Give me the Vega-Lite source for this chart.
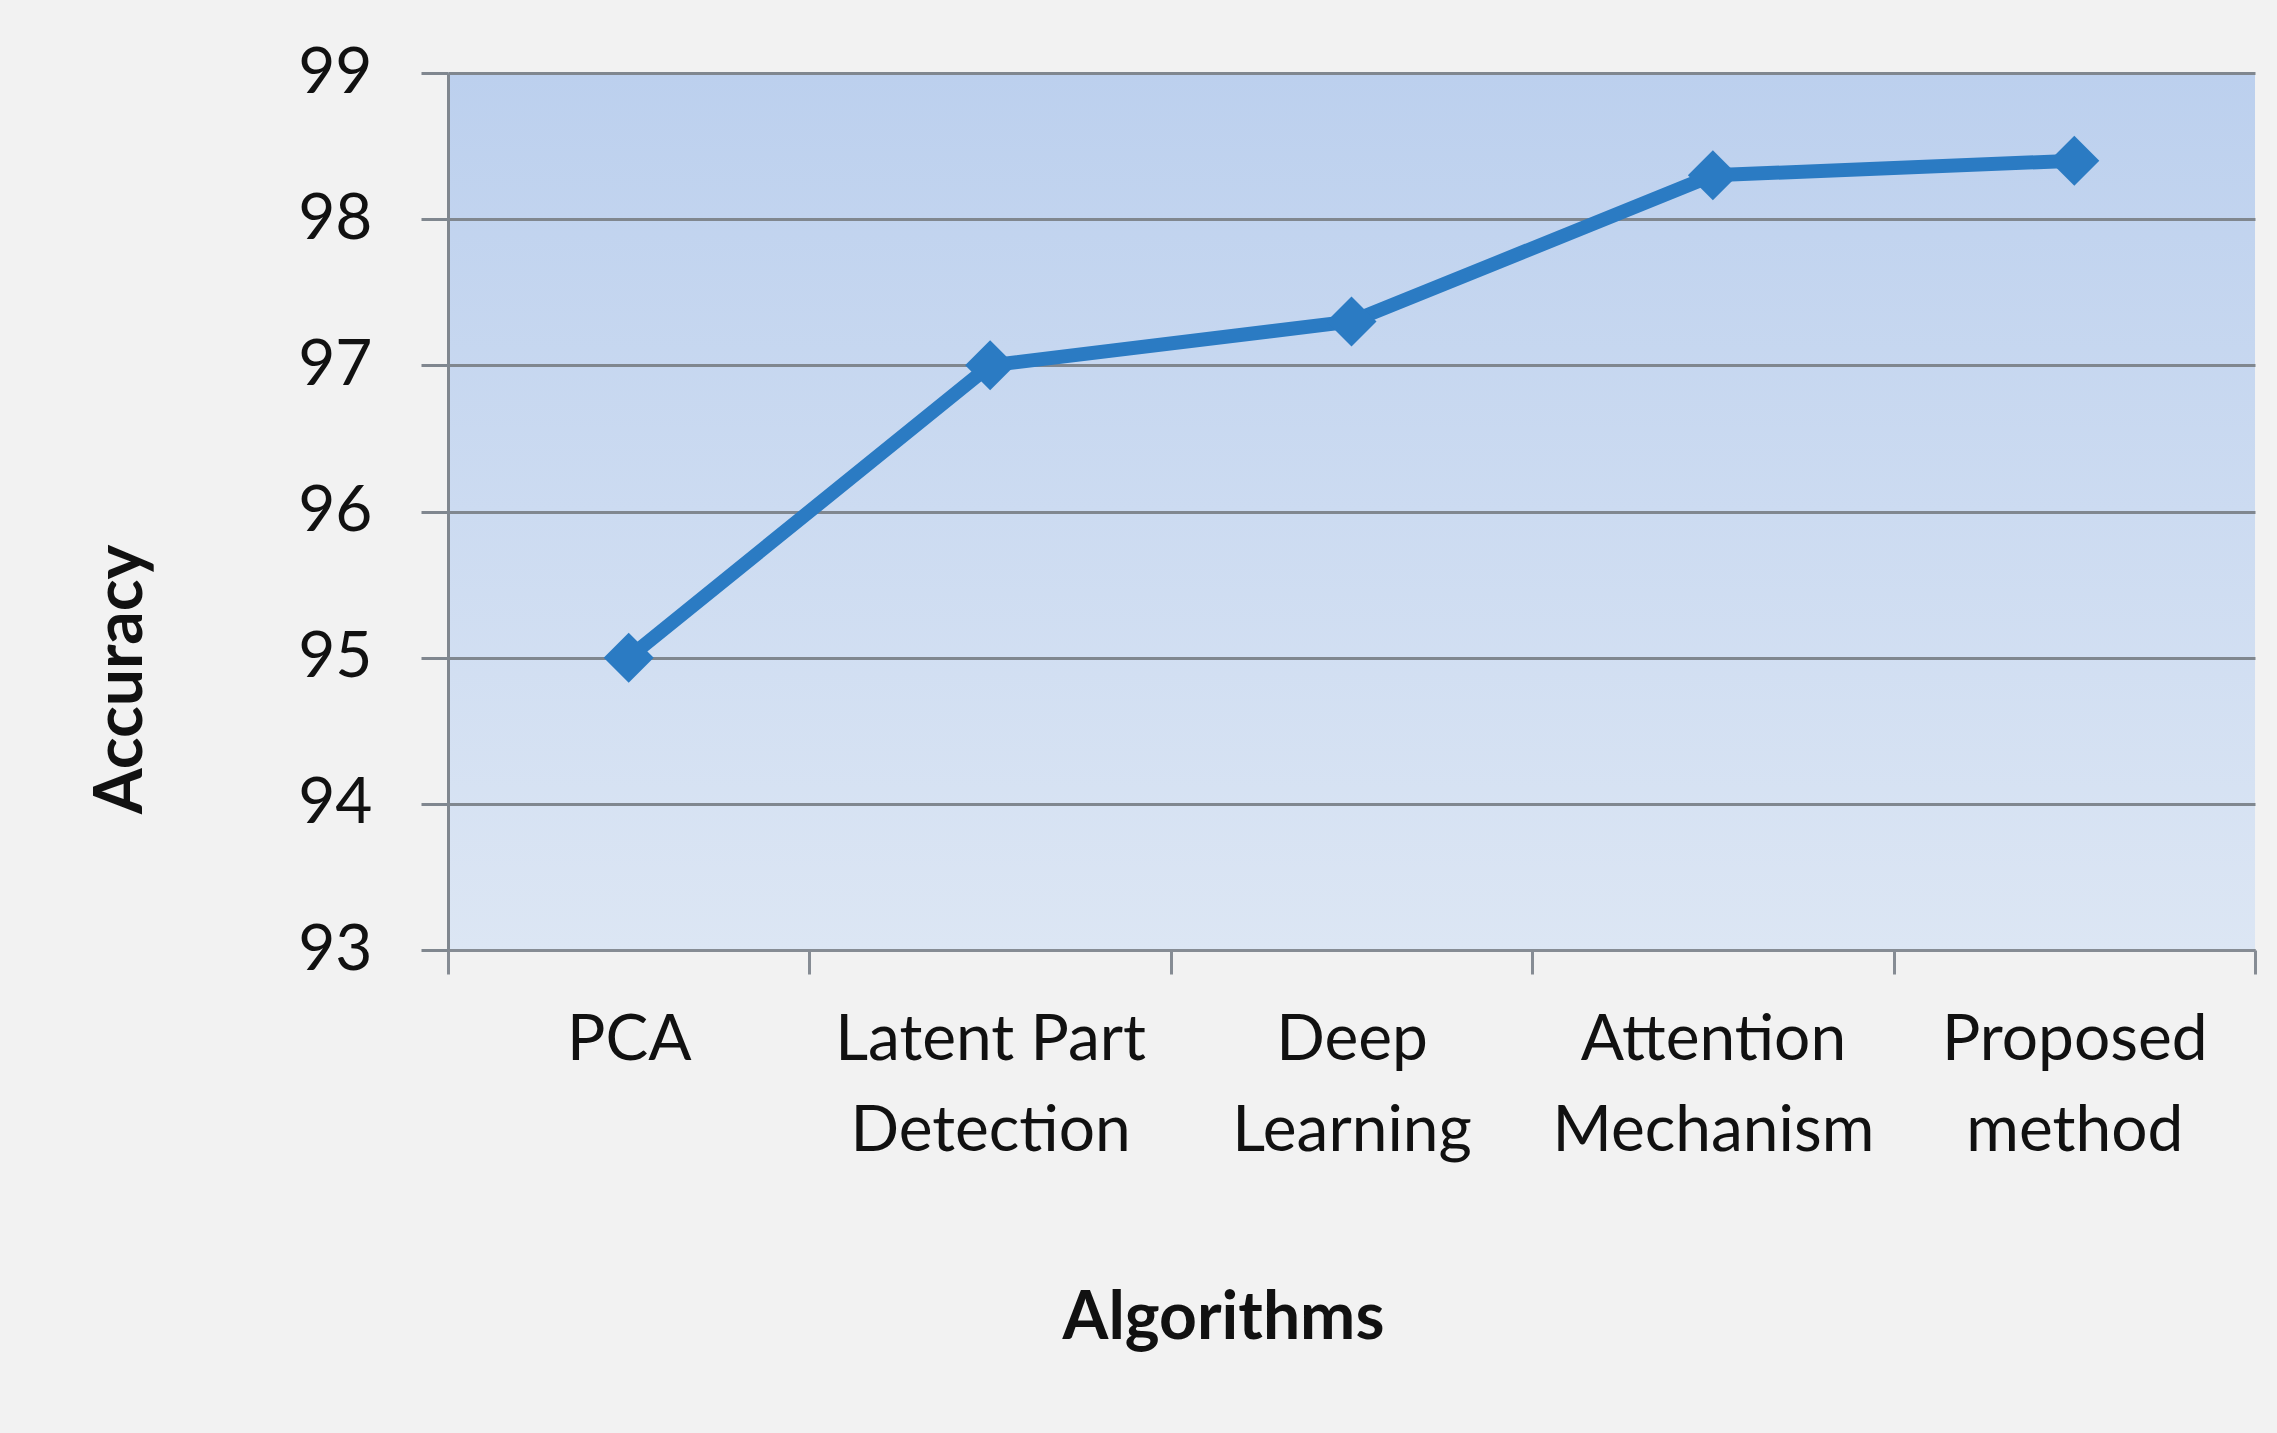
{
  "$schema": "https://vega.github.io/schema/vega-lite/v6.json",
  "width": 1807,
  "height": 877,
  "autosize": "none",
  "padding": {"left": 448, "top": 73, "right": 22, "bottom": 483},
  "background": "#F2F2F2",
  "view": {
    "fill": {
      "gradient": "linear",
      "x1": 0, "y1": 0, "x2": 0, "y2": 1,
      "stops": [
        {"offset": 0, "color": "#BCD0EE"},
        {"offset": 1, "color": "#DCE6F4"}
      ]
    },
    "stroke": null
  },
  "data": {
    "values": [
      {"algorithm": "PCA", "accuracy": 95.0},
      {"algorithm": "Latent Part Detection", "accuracy": 97.0},
      {"algorithm": "Deep Learning", "accuracy": 97.3},
      {"algorithm": "Attention Mechanism", "accuracy": 98.3},
      {"algorithm": "Proposed method", "accuracy": 98.4}
    ]
  },
  "mark": {
    "type": "line",
    "color": "#2B7BC3",
    "strokeWidth": 14,
    "point": {"shape": "diamond", "size": 2500, "filled": true, "color": "#2B7BC3", "opacity": 1}
  },
  "encoding": {
    "x": {
      "field": "algorithm",
      "type": "nominal",
      "sort": null,
      "scale": {"type": "band", "paddingInner": 0, "paddingOuter": 0},
      "axis": {
        "title": "Algorithms",
        "titleFont": "Lato",
        "titleFontWeight": "bold",
        "titleFontSize": 66,
        "titleColor": "#111111",
        "titleX": 775,
        "titleY": 368,
        "titleBaseline": "middle",
        "titleAlign": "center",
        "labelAngle": 0,
        "labelFont": "Lato",
        "labelFontSize": 64,
        "labelColor": "#111111",
        "labelLineHeight": 91,
        "labelBaseline": "top",
        "labelPadding": 34,
        "labelLimit": 0,
        "labelOverlap": false,
        "labelExpr": "datum.label == 'Latent Part Detection' ? ['Latent Part', 'Detection'] : split(datum.label, ' ')",
        "tickBand": "extent",
        "tickSize": 24,
        "tickWidth": 3,
        "tickColor": "#868C94",
        "domainColor": "#868C94",
        "domainWidth": 3,
        "grid": false
      }
    },
    "y": {
      "field": "accuracy",
      "type": "quantitative",
      "scale": {"domain": [93, 99], "nice": false, "zero": false},
      "axis": {
        "title": "Accuracy",
        "titleFont": "Lato",
        "titleFontWeight": "bold",
        "titleFontSize": 66,
        "titleColor": "#111111",
        "titleAngle": -90,
        "titleX": -327,
        "titleY": 606,
        "titleBaseline": "middle",
        "titleAlign": "center",
        "values": [93, 94, 95, 96, 97, 98, 99],
        "labelFont": "Lato",
        "labelFontSize": 64,
        "labelColor": "#111111",
        "labelPadding": 49,
        "tickSize": 27,
        "tickWidth": 3,
        "tickColor": "#80878F",
        "domainColor": "#80878F",
        "domainWidth": 3,
        "grid": true,
        "gridColor": "#80878F",
        "gridWidth": 3,
        "gridOpacity": 1
      }
    }
  }
}
